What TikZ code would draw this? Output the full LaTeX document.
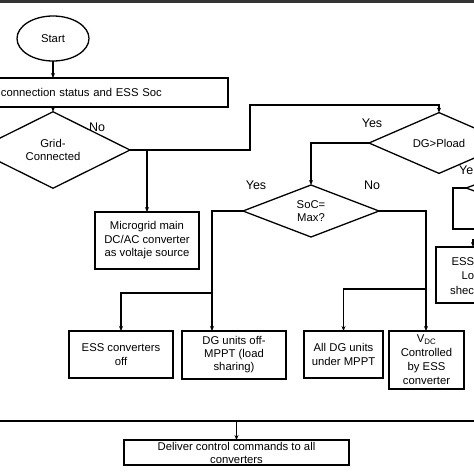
\documentclass[tikz,border=0pt]{standalone}
\usepackage{fontspec}
\setmainfont{Liberation Sans}
\usetikzlibrary{shapes.geometric,arrows.meta}
\begin{document}
\begin{tikzpicture}[x=1pt,y=-1pt,line width=1.3pt,
  every node/.style={font=\fontsize{11.3}{13.5}\selectfont},
  box/.style={draw,rectangle,inner sep=0pt,outer sep=0pt,align=center},
  dia/.style={draw,diamond,inner sep=0pt,outer sep=0pt,align=center},
  arr/.style={-{Stealth[length=5pt,width=4pt]}},
  lbl/.style={inner sep=0pt,font=\fontsize{12.5}{14}\selectfont}]
\useasboundingbox (0,0) rectangle (474,474);
\clip (0,0) rectangle (474,474);
\fill[black!80] (0,0) rectangle (474,2.5);

% nodes
\node[draw,ellipse,minimum width=72,minimum height=45,inner sep=0pt,outer sep=0pt] (start) at (53,38.5) {Start};
\node[box,minimum width=233,minimum height=29,inner xsep=6pt,text width=221,align=left] (check) at (111.5,92.5) {connection status and ESS Soc};
\node[dia,minimum width=154,minimum height=50] (grid) at (53,150) {Grid-\\Connected};
\node[box,minimum width=104,minimum height=57] (micro) at (147,240.5) {Microgrid main\\DC/AC converter\\as voltaje source};
\node[dia,minimum width=140,minimum height=50] (dg) at (439,143) {DG>Pload};
\node[dia,minimum width=136,minimum height=52] (soc) at (311,211) {SoC=\\Max?};
\node[dia,minimum width=140,minimum height=50] (dg2) at (536,188) {};
\node[box,minimum width=54,minimum height=56] (essR) at (463,275) {};
\node[inner sep=0pt,anchor=west] (essRa) at (451,262) {ESS};
\node[inner sep=0pt,anchor=west] (essRb) at (461,276) {Lo};
\node[inner sep=0pt,anchor=west] (essRc) at (449.5,290) {shec};
\node[box,minimum width=104,minimum height=47] (essoff) at (121,354.5) {ESS converters\\off};
\node[box,minimum width=104,minimum height=48,font=\fontsize{11.3}{13}\selectfont] (dgoff) at (234,355) {DG units off-\\MPPT (load\\sharing)};
\node[box,minimum width=79,minimum height=47] (alldg) at (343.5,354.5) {All DG units\\under MPPT};
\node[box,minimum width=75,minimum height=58,font=\fontsize{11.3}{14}\selectfont] (vdc) at (426.5,360) {V\textsubscript{DC}\\Controlled\\by ESS\\converter};
\node[box,minimum width=225,minimum height=25,font=\fontsize{11.3}{13}\selectfont] (deliver) at (236.5,452.5) {Deliver control commands to all\\converters};

% labels
\node[lbl] (no1) at (97,127) {No};
\node[lbl] (yes1) at (372,123) {Yes};
\node[lbl] (yes2) at (256,185) {Yes};
\node[lbl] (no2) at (372,185) {No};
\node[lbl,anchor=west] (ye) at (458.5,170) {Ye};

% coordinates
\coordinate (g1) at (250,150);
\coordinate (g2) at (250,105);
\coordinate (j1) at (212,293);
\coordinate (j2) at (426,289);
\coordinate (r1) at (453,188);
\coordinate (r2) at (453,229);
\coordinate (r3) at (476,229);
\coordinate (t1) at (473,239);
\coordinate (bl) at (-2,421);
\coordinate (br) at (476,421);

% connectors
\draw[arr] (start.south) -- (start.south |- check.north);
\draw[arr] (check.south -| grid.north) -- (grid.north);
\draw[arr] (grid.east) -- (g1) -- (g2) -| (dg.north);
\draw[arr] (grid.east -| micro.north) -- (micro.north);
\draw[arr] (dg.west) -| (soc.north);
\draw (soc.west) -| (j1);
\draw[arr] (j1) -- (j1 |- dgoff.north);
\draw[arr] (j1) -| (essoff.north);
\draw (soc.east) -| (j2);
\draw[arr] (j2) -- (j2 |- vdc.north);
\draw[arr] (j2) -| (alldg.north);
\draw (dg2.west) -- (r1) -- (r2) -- (r3);
\draw[arr] (t1) -- (t1 |- essR.north);
\draw (bl) -- (br);
\draw[arr] (deliver.north |- bl) -- (deliver.north);
\end{tikzpicture}
\end{document}
